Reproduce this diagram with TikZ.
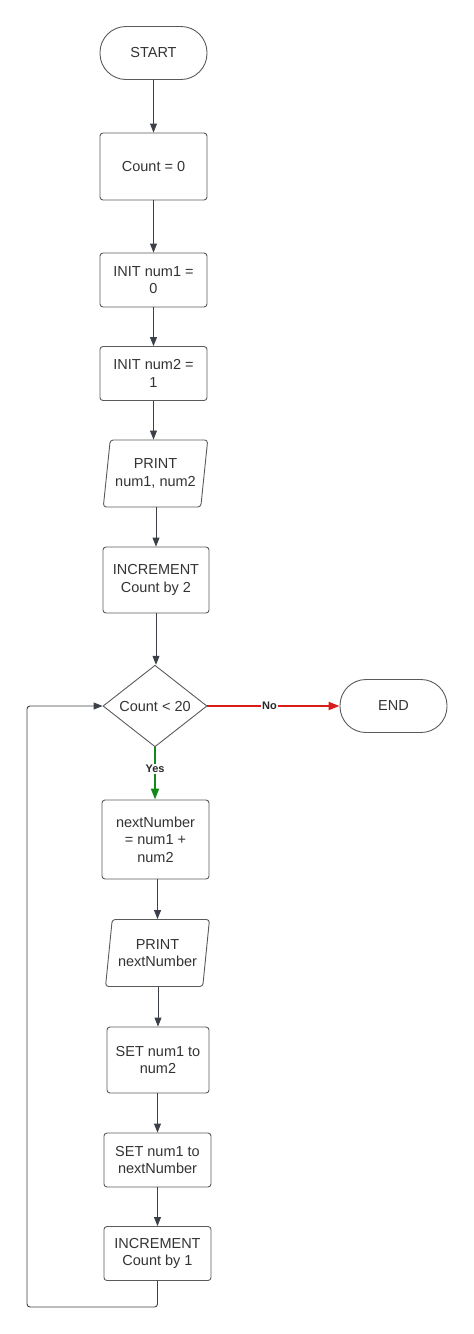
\documentclass[tikz,border=0pt]{standalone}
\usepackage{fontspec}
\setmainfont{Liberation Sans}
\usetikzlibrary{shapes.geometric,arrows.meta}
\definecolor{bordergray}{HTML}{5A5A5A}
\definecolor{linegray}{HTML}{3B4048}
\definecolor{txt}{HTML}{333333}
\definecolor{yesgreen}{HTML}{13891B}
\definecolor{nored}{HTML}{D81B1B}
\tikzset{
  base/.style={draw=bordergray, line width=0.9pt, text=txt, align=center, inner sep=2pt,
    font=\fontsize{14.5}{17.5}\selectfont},
  termbox/.style={base, minimum width=107pt, minimum height=53pt, rounded corners=26pt},
  procbox/.style={base, minimum width=107pt, rounded corners=3pt},
  iobox/.style={base, shape=trapezium, trapezium left angle=79, trapezium right angle=101,
    trapezium stretches=true, minimum width=105pt, minimum height=67pt, rounded corners=3pt},
  decbox/.style={base, shape=diamond, minimum width=104pt, minimum height=78pt, inner sep=0pt},
  conn/.style={draw=linegray, line width=0.9pt, -{Triangle[length=9pt,width=7pt]}},
  lbl/.style={fill=white, inner sep=1pt, text=txt!80!black, font=\fontsize{11}{13}\selectfont\bfseries}
}
\begin{document}
\begin{tikzpicture}[x=1pt,y=-1pt]
\useasboundingbox (0,0) rectangle (474,1334);
\node[termbox] (start) at (153.5,53) {START};
\node[procbox, minimum height=67pt] (count0) at (153.5,166.5) {Count = 0};
\node[procbox, minimum height=54pt] (init1) at (153.5,280) {INIT num1 =\\0};
\node[procbox, minimum height=54pt] (init2) at (153.5,373.5) {INIT num2 =\\1};
\node[iobox] (print1) at (155.5,473.5) {PRINT\\num1, num2};
\node[procbox, minimum height=66pt, minimum width=106pt] (inc2) at (156,580) {INCREMENT\\Count by 2};
\node[decbox] (dec) at (155,706) {Count < 20};
\node[termbox] (end) at (393.5,706) {END};
\node[procbox, minimum height=79pt] (next) at (155.5,839.5) {nextNumber\\= num1 +\\num2};
\node[iobox] (print2) at (157.5,953) {PRINT\\nextNumber};
\node[procbox, minimum height=66pt, minimum width=102pt] (set1) at (158,1060) {SET num1 to\\num2};
\node[procbox, minimum height=54pt] (set2) at (157.5,1160) {SET num1 to\\nextNumber};
\node[procbox, minimum height=54pt] (inc1) at (157.5,1253.5) {INCREMENT\\Count by 1};
\coordinate (c1) at (157.5,1307);
\coordinate (c2) at (27,1307);
\coordinate (c3) at (27,706);

\draw[conn] (start.south) -- (start.south |- count0.north);
\draw[conn] (count0.south) -- (count0.south |- init1.north);
\draw[conn] (init1.south) -- (init1.south |- init2.north);
\draw[conn] (init2.south) -- (init2.south |- print1.north);
\draw[conn] (print1.south -| inc2.north) -- (inc2.north);
\draw[conn] (inc2.south) -- (inc2.south |- dec.north);
\draw[conn, draw=nored, line width=2pt, -{Triangle[length=11pt,width=8pt]}] (dec.east) -- node[lbl, pos=0.47]{No} (end.west);
\draw[conn, draw=yesgreen, line width=2pt, -{Triangle[length=11pt,width=8pt]}] (dec.south) -- node[lbl, pos=0.42]{Yes} (dec.south |- next.north);
\draw[conn] (next.south -| print2.north) -- (print2.north);
\draw[conn] (print2.south -| set1.north) -- (set1.north);
\draw[conn] (set1.south -| set2.north) -- (set2.north);
\draw[conn] (set2.south) -- (inc1.north);
\draw[conn, rounded corners=3pt] (inc1.south) -- (c1) -- (c2) -- (c3) -- (dec.west);
\end{tikzpicture}
\end{document}
